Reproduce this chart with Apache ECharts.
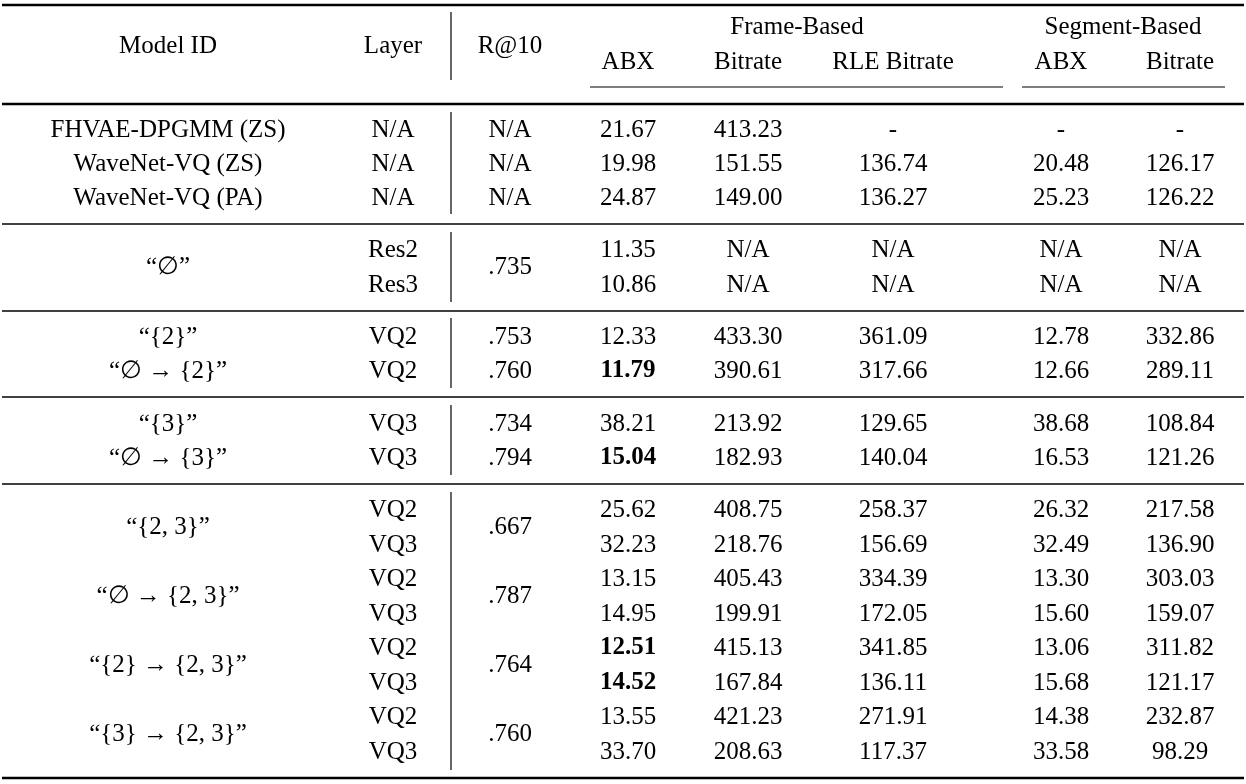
<!DOCTYPE html>
<html><head><meta charset="utf-8">
<script src="https://cdn.jsdelivr.net/npm/echarts@6/dist/echarts.min.js"></script>
<style>html,body{margin:0;padding:0;background:#fff}#c{width:1246px;height:784px}</style>
</head><body><div id="c"></div>
<script>
// ---- data ----
const headers = ["Model ID","Layer","R@10","ABX","Bitrate","RLE Bitrate","ABX","Bitrate"];
const groupHeaders = ["Frame-Based","Segment-Based"];
const layers = ["N/A","N/A","N/A","Res2","Res3","VQ2","VQ2","VQ3","VQ3","VQ2","VQ3","VQ2","VQ3","VQ2","VQ3","VQ2","VQ3"];
const abx = ["21.67","19.98","24.87","11.35","10.86","12.33","11.79","38.21","15.04","25.62","32.23","13.15","14.95","12.51","14.52","13.55","33.70"];
const bitrate = ["413.23","151.55","149.00","N/A","N/A","433.30","390.61","213.92","182.93","408.75","218.76","405.43","199.91","415.13","167.84","421.23","208.63"];
const rleBitrate = ["-","136.74","136.27","N/A","N/A","361.09","317.66","129.65","140.04","258.37","156.69","334.39","172.05","341.85","136.11","271.91","117.37"];
const segAbx = ["-","20.48","25.23","N/A","N/A","12.78","12.66","38.68","16.53","26.32","32.49","13.30","15.60","13.06","15.68","14.38","33.58"];
const segBitrate = ["-","126.17","126.22","N/A","N/A","332.86","289.11","108.84","121.26","217.58","136.90","303.03","159.07","311.82","121.17","232.87","98.29"];
const models = ["FHVAE-DPGMM (ZS)","WaveNet-VQ (ZS)","WaveNet-VQ (PA)","“∅”","“{2}”","“∅ → {2}”","“{3}”","“∅ → {3}”","“{2, 3}”","“∅ → {2, 3}”","“{2} → {2, 3}”","“{3} → {2, 3}”"];
const modelSpans = [1,1,1,2,1,1,1,1,2,2,2,2];
const r10 = ["N/A","N/A","N/A",".735",".753",".760",".734",".794",".667",".787",".764",".760"];
const boldCells = ["6-3","8-3","13-3","14-3"];

// ---- layout ----
const colX = [168,393,510,628,748,893,1061,1180];
const rowY = [130,164,198,250,285,337,371,424,458,510,545,579,614,648,683,717,752];
const groupHeaderX = [797,1123];
const headerY = 46, groupY = 27, subY = 62;
const groupTop = [112,232,318,405,492], groupBot = [214,302,388,475,770];
const FONT = '"Liberation Serif","DejaVu Serif",serif';

const cells = [];
for (let i=0;i<3;i++) cells.push([colX[i],headerY,headers[i],false]);
for (let i=3;i<8;i++) cells.push([colX[i],subY,headers[i],false]);
groupHeaders.forEach((g,i)=>cells.push([groupHeaderX[i],groupY,g,false]));
const cols = [layers,abx,bitrate,rleBitrate,segAbx,segBitrate];
const colIdx = [1,3,4,5,6,7];
rowY.forEach((y,r)=>cols.forEach((c,k)=>cells.push([colX[colIdx[k]],y,c[r],boldCells.includes(r+'-'+colIdx[k])])));
let r=0;
models.forEach((m,i)=>{const s=modelSpans[i];const y=s===1?rowY[r]:(rowY[r]+rowY[r+s-1])/2;
  cells.push([colX[0],y,m,false]);cells.push([colX[2],y,r10[i],false]);r+=s;});

const lines = [[2,5,1244,5,2.5],[2,104,1244,104,2.5],[2,778,1244,778,2.5],
  [590,87,1003,87,1.2],[1022,87,1225,87,1.2],[451,12,451,80,1.2]];
[224,311,397,484].forEach(y=>lines.push([2,y,1244,y,1.3]));
groupTop.forEach((t,i)=>lines.push([451,t,451,groupBot[i],1.2]));

const chart = echarts.init(document.getElementById('c'));
chart.setOption({
  animation:false,
  grid:{left:0,right:0,top:0,bottom:0},
  xAxis:{type:'value',min:0,max:1246,show:false},
  yAxis:{type:'value',min:0,max:784,inverse:true,show:false},
  series:[
    {type:'custom',data:lines,renderItem:(p,api)=>{const a=api.coord([api.value(0),api.value(1)]),b=api.coord([api.value(2),api.value(3)]);
      return {type:'line',shape:{x1:a[0],y1:a[1],x2:b[0],y2:b[1]},style:{stroke:'#000',lineWidth:api.value(4)}};}},
    {type:'custom',data:cells.map(c=>[c[0],c[1]]),renderItem:(p,api)=>{const c=cells[p.dataIndex];const pt=api.coord([c[0],c[1]]);
      return {type:'text',x:pt[0],y:pt[1],style:{text:c[2],fill:'#000',align:'center',verticalAlign:'middle',
        font:(c[3]?'bold ':'')+'25px '+FONT}};}}
  ]
});
</script></body></html>
